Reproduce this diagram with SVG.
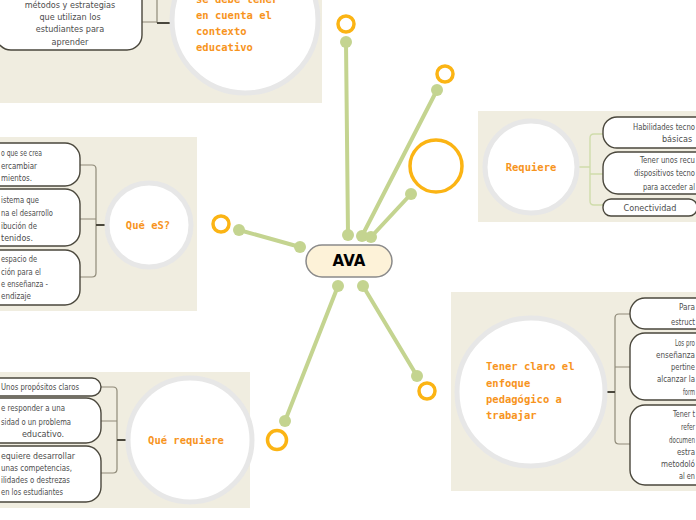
<svg xmlns="http://www.w3.org/2000/svg" width="696" height="520" viewBox="0 0 696 520">
<style>
.panel{fill:#f0ede0}
.bub{fill:#fff;stroke:#e7e7e7;stroke-width:5}
.box{fill:#fff;stroke:#4a473c;stroke-width:1.4}
.bt{font-family:"Liberation Sans Narrow","DejaVu Sans Condensed","Liberation Sans",sans-serif;font-size:9px;fill:#4d4d4d}
.ot{font-family:"DejaVu Sans Mono","Liberation Mono",monospace;font-weight:bold;font-size:10.5px;fill:#f7941d}
.br{fill:none;stroke:#8f8a78;stroke-width:1.2}
.brg{fill:none;stroke:#cfdcab;stroke-width:1.4}
.dk{fill:none;stroke:#4a473c;stroke-width:2}
.ln{stroke:#c4d490;stroke-width:4;stroke-linecap:round}
.dot{fill:#c4d490}
.ring{fill:none;stroke:#fbb414;stroke-width:3.5}
</style>
<rect width="696" height="520" fill="#fff"/>

<g id="n-contexto">
<rect class="panel" x="0" y="0" width="322" height="103"/>
<path class="br" d="M142,22 H157 M157,-2 V23"/>
<path class="dk" d="M157,23 H170"/>
<rect class="box" x="-4" y="-20" width="146" height="70" rx="15"/>
<text class="bt" text-anchor="middle"><tspan x="70" y="8">métodos y estrategias</tspan><tspan x="70" y="20">que utilizan los</tspan><tspan x="70" y="32">estudiantes para</tspan><tspan x="70" y="45">aprender</tspan></text>
<circle class="bub" cx="245" cy="20" r="73"/>
<text class="ot"><tspan x="196" y="3">se debe tener</tspan><tspan x="196" y="19">en cuenta el</tspan><tspan x="196" y="35">contexto</tspan><tspan x="196" y="51">educativo</tspan></text>
</g>

<g id="n-quees">
<rect class="panel" x="0" y="137" width="197" height="174"/>
<path class="br" d="M80,165 H92 Q96,165 96,169 V273 Q96,277 92,277 H80 M80,219 H96"/>
<path class="dk" d="M96,225 H107"/>
<rect class="box" x="-70" y="143" width="150" height="43" rx="15"/>
<rect class="box" x="-70" y="189" width="150" height="57" rx="15"/>
<rect class="box" x="-70" y="250" width="150" height="55" rx="15"/>
<g class="bt" lengthAdjust="spacingAndGlyphs">
<text x="1" y="156" textLength="41" lengthAdjust="spacingAndGlyphs">o que se crea</text>
<text x="1" y="169" textLength="36" lengthAdjust="spacingAndGlyphs">ercambiar</text>
<text x="1" y="181" textLength="31" lengthAdjust="spacingAndGlyphs">mientos.</text>
<text x="1" y="203" textLength="38" lengthAdjust="spacingAndGlyphs">istema que</text>
<text x="1" y="216" textLength="52" lengthAdjust="spacingAndGlyphs">na el desarrollo</text>
<text x="1" y="229" textLength="36" lengthAdjust="spacingAndGlyphs">ibución de</text>
<text x="1" y="241" textLength="32" lengthAdjust="spacingAndGlyphs">tenidos.</text>
<text x="1" y="262" textLength="36" lengthAdjust="spacingAndGlyphs">espacio de</text>
<text x="1" y="275" textLength="40" lengthAdjust="spacingAndGlyphs">ción para el</text>
<text x="1" y="287" textLength="47" lengthAdjust="spacingAndGlyphs">e enseñanza -</text>
<text x="1" y="299" textLength="30" lengthAdjust="spacingAndGlyphs">endizaje</text>
</g>
<circle class="bub" cx="149" cy="225" r="42"/>
<text class="ot" x="148" y="229" text-anchor="middle">Qué eS?</text>
</g>

<g id="n-querequiere">
<rect class="panel" x="0" y="372" width="250" height="136"/>
<path class="br" d="M101,387 H113 Q117,387 117,391 V469 Q117,473 113,473 H101 M101,421 H117"/>
<path class="dk" d="M117,440 H128"/>
<rect class="box" x="-17" y="378" width="118" height="18" rx="9"/>
<rect class="box" x="-17" y="398" width="118" height="45" rx="15"/>
<rect class="box" x="-17" y="446" width="118" height="56" rx="15"/>
<g class="bt">
<text x="1" y="390" textLength="78" lengthAdjust="spacingAndGlyphs">Unos propósitos claros</text>
<text x="1" y="411" textLength="64" lengthAdjust="spacingAndGlyphs">e responder a una</text>
<text x="1" y="425" textLength="70" lengthAdjust="spacingAndGlyphs">sidad o un problema</text>
<text x="43" y="437" text-anchor="middle">educativo.</text>
<text x="1" y="459" textLength="74" lengthAdjust="spacingAndGlyphs">equiere desarrollar</text>
<text x="1" y="471" textLength="71" lengthAdjust="spacingAndGlyphs">unas competencias,</text>
<text x="1" y="483" textLength="69" lengthAdjust="spacingAndGlyphs">ilidades o destrezas</text>
<text x="1" y="495" textLength="62" lengthAdjust="spacingAndGlyphs">en los estudiantes</text>
</g>
<circle class="bub" cx="190" cy="440" r="62"/>
<text class="ot" x="186" y="444" text-anchor="middle">Qué requiere</text>
</g>

<g id="n-requiere">
<rect class="panel" x="478" y="111" width="218" height="111"/>
<path class="brg" d="M578,167 H590 M603,134 H594 Q590,134 590,138 V201 Q590,205 594,205 H603 M590,174 H603"/>
<rect class="box" x="603" y="117" width="150" height="31" rx="14"/>
<rect class="box" x="603" y="152" width="150" height="42" rx="15"/>
<rect class="box" x="603" y="199" width="94" height="17" rx="8"/>
<g class="bt">
<text x="633" y="130" textLength="62" lengthAdjust="spacingAndGlyphs">Habilidades tecno</text>
<text x="677" y="142" text-anchor="middle">básicas</text>
<text x="640" y="163" textLength="55" lengthAdjust="spacingAndGlyphs">Tener unos recu</text>
<text x="634" y="176" textLength="61" lengthAdjust="spacingAndGlyphs">dispositivos tecno</text>
<text x="643" y="190" textLength="52" lengthAdjust="spacingAndGlyphs">para acceder al</text>
<text x="650" y="211" text-anchor="middle">Conectividad</text>
</g>
<circle class="bub" cx="531" cy="167" r="46"/>
<text class="ot" x="531" y="171" text-anchor="middle">Requiere</text>
</g>

<g id="n-enfoque">
<rect class="panel" x="451" y="292" width="245" height="199"/>
<path class="br" d="M630,314 H619 Q615,314 615,318 V440 Q615,444 619,444 H630 M615,367 H630"/>
<path class="dk" d="M605,392 H615"/>
<rect class="box" x="630" y="298" width="120" height="31" rx="15"/>
<rect class="box" x="630" y="333" width="120" height="67" rx="15"/>
<rect class="box" x="630" y="405" width="120" height="80" rx="15"/>
<g class="bt">
<text x="679" y="310" textLength="16" lengthAdjust="spacingAndGlyphs">Para</text>
<text x="671" y="325" textLength="24" lengthAdjust="spacingAndGlyphs">estruct</text>
<text x="675" y="346" textLength="20" lengthAdjust="spacingAndGlyphs">Los pro</text>
<text x="656" y="358" textLength="39" lengthAdjust="spacingAndGlyphs">enseñanza</text>
<text x="671" y="370" textLength="24" lengthAdjust="spacingAndGlyphs">pertine</text>
<text x="657" y="382" textLength="38" lengthAdjust="spacingAndGlyphs">alcanzar la</text>
<text x="683" y="395" textLength="12" lengthAdjust="spacingAndGlyphs">form</text>
<text x="673" y="417" textLength="22" lengthAdjust="spacingAndGlyphs">Tener t</text>
<text x="681" y="430" textLength="14" lengthAdjust="spacingAndGlyphs">refer</text>
<text x="669" y="443" textLength="26" lengthAdjust="spacingAndGlyphs">documen</text>
<text x="677" y="455" textLength="18" lengthAdjust="spacingAndGlyphs">estra</text>
<text x="661" y="467" textLength="34" lengthAdjust="spacingAndGlyphs">metodoló</text>
<text x="679" y="479" textLength="16" lengthAdjust="spacingAndGlyphs">al en</text>
</g>
<circle class="bub" cx="531" cy="392" r="74"/>
<text class="ot"><tspan x="486" y="370">Tener claro el</tspan><tspan x="486" y="387">enfoque</tspan><tspan x="486" y="403">pedagógico a</tspan><tspan x="486" y="419">trabajar</tspan></text>
</g>

<g id="connectors">
<line class="ln" x1="348" y1="235" x2="346" y2="42"/>
<line class="ln" x1="362" y1="236" x2="437" y2="90"/>
<line class="ln" x1="371" y1="237" x2="411" y2="194"/>
<line class="ln" x1="300" y1="247" x2="239" y2="230"/>
<line class="ln" x1="338" y1="286" x2="285" y2="421"/>
<line class="ln" x1="363" y1="286" x2="417" y2="376"/>
<circle class="dot" cx="348" cy="235" r="6"/><circle class="dot" cx="346" cy="42" r="6"/>
<circle class="dot" cx="362" cy="236" r="6"/><circle class="dot" cx="437" cy="90" r="6"/>
<circle class="dot" cx="371" cy="237" r="6"/><circle class="dot" cx="411" cy="194" r="6"/>
<circle class="dot" cx="300" cy="247" r="6"/><circle class="dot" cx="239" cy="230" r="6"/>
<circle class="dot" cx="338" cy="286" r="6"/><circle class="dot" cx="285" cy="421" r="6"/>
<circle class="dot" cx="363" cy="286" r="6"/><circle class="dot" cx="417" cy="376" r="6"/>
</g>

<g id="rings">
<circle class="ring" cx="346" cy="24" r="8"/>
<circle class="ring" cx="445" cy="74" r="8"/>
<circle class="ring" cx="436" cy="166" r="26"/>
<circle class="ring" cx="221" cy="224" r="8"/>
<circle class="ring" cx="277" cy="440" r="9.5"/>
<circle class="ring" cx="427" cy="391" r="8"/>
</g>

<g id="n-ava">
<rect x="306" y="245" width="86" height="32" rx="16" fill="#fdf2d8" stroke="#8a8a8a" stroke-width="1.5"/>
<text x="349" y="266" text-anchor="middle" font-family="'DejaVu Sans',sans-serif" font-weight="900" font-size="15" fill="#000">AVA</text>
</g>
</svg>
